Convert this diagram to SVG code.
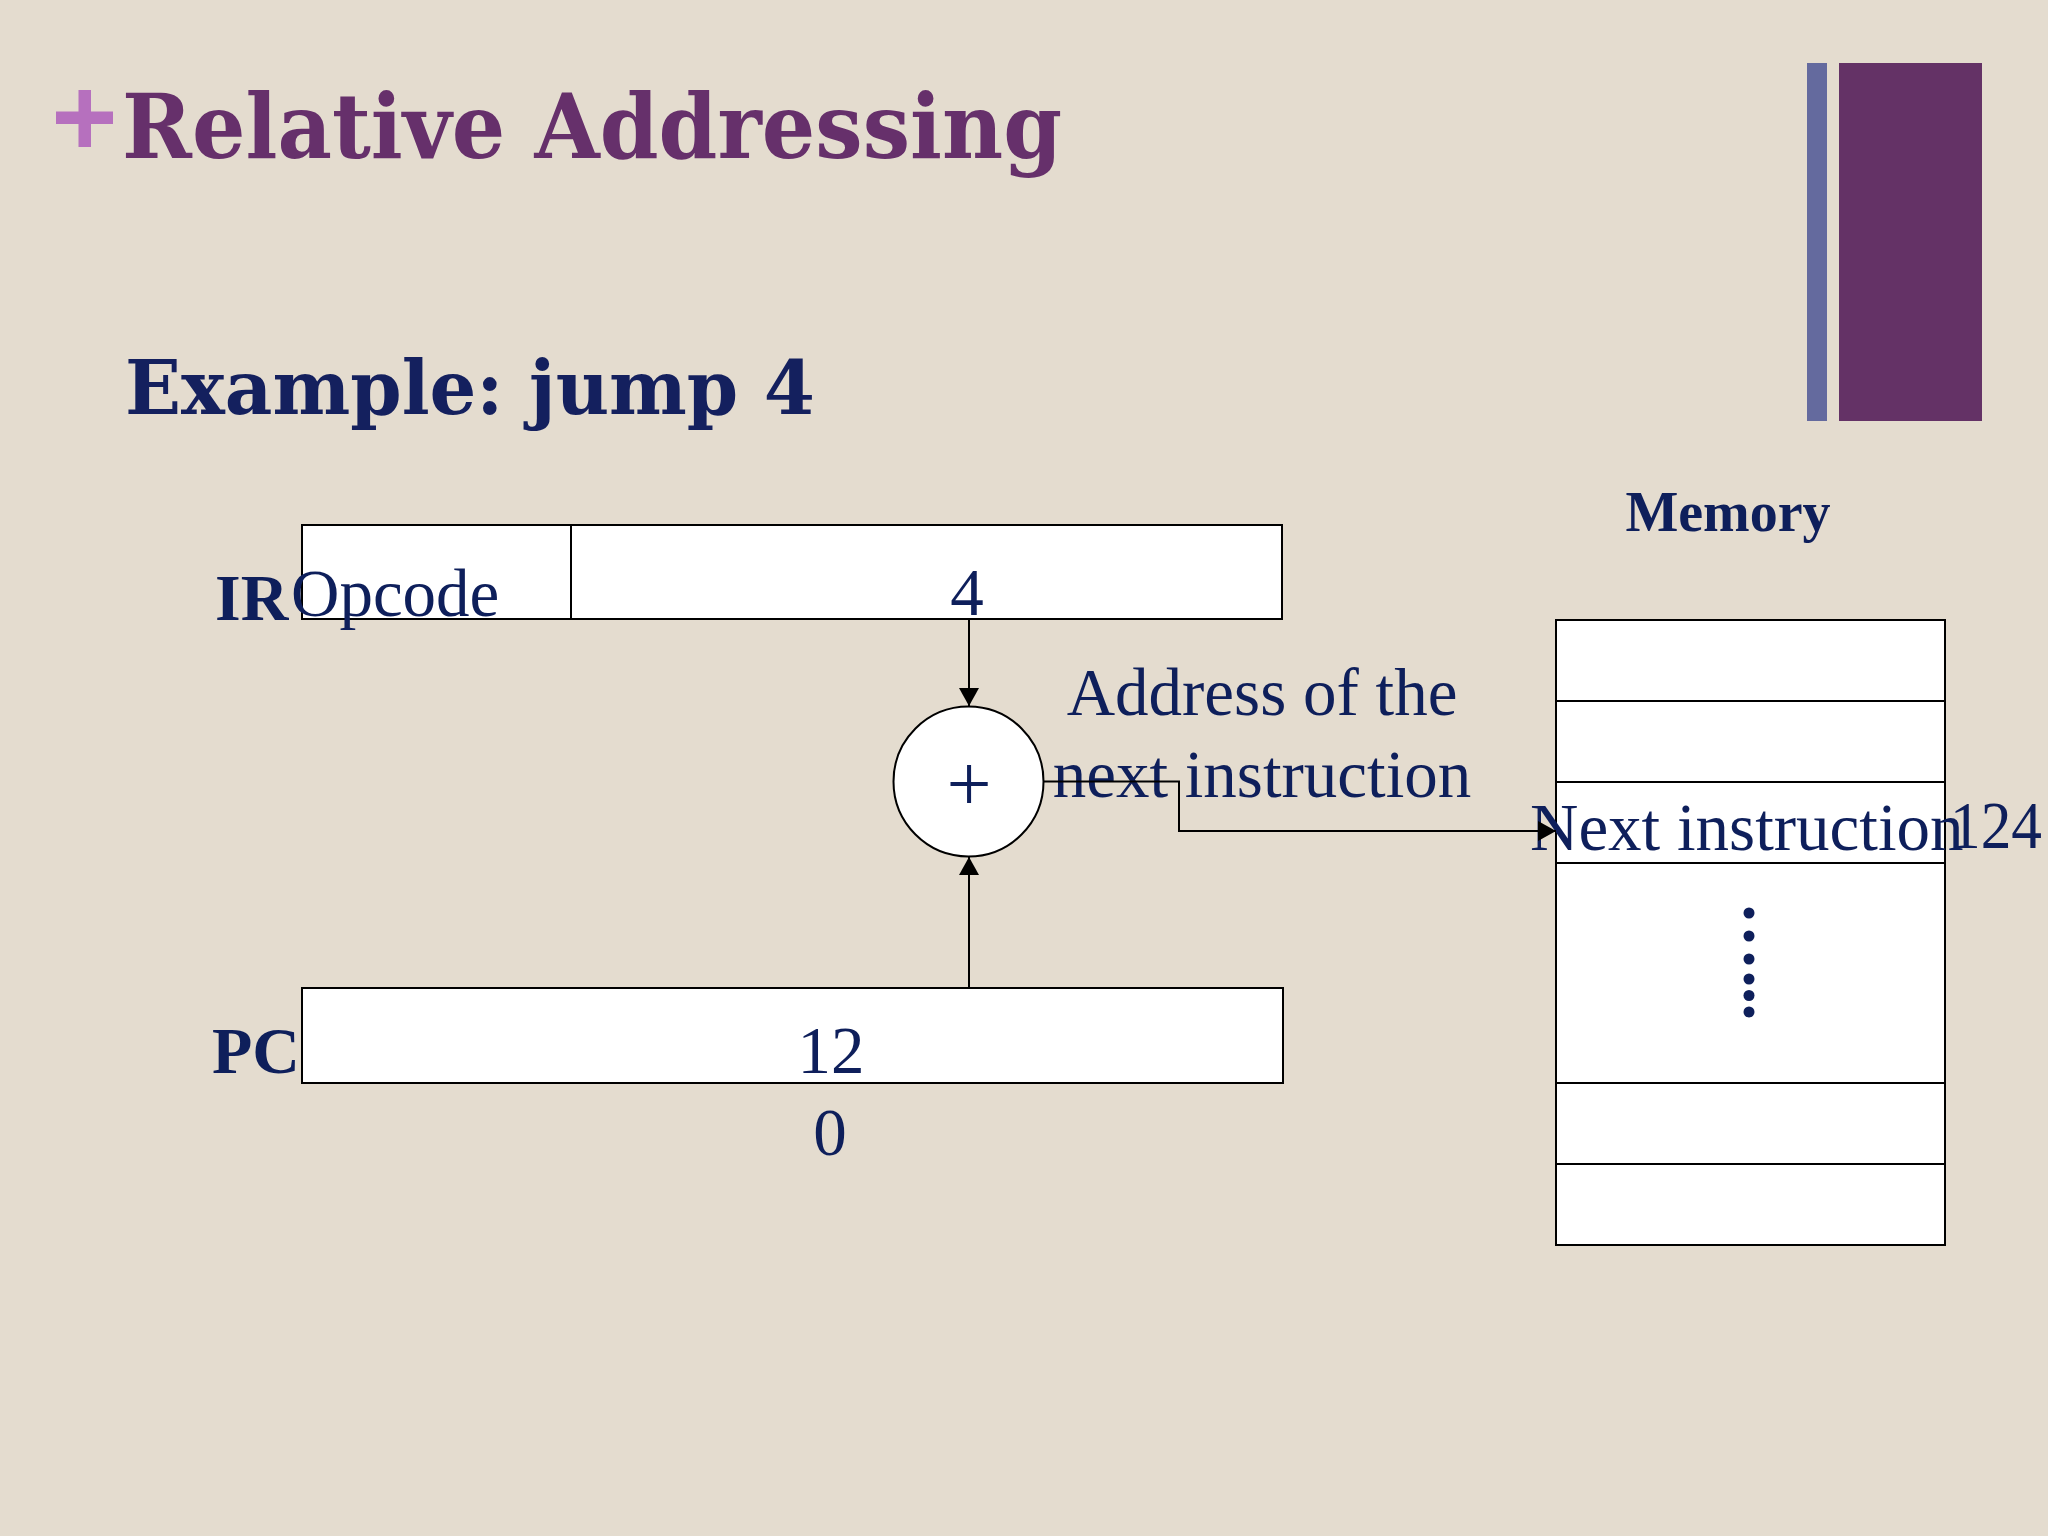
<svg xmlns="http://www.w3.org/2000/svg" width="2048" height="1536" viewBox="0 0 2048 1536">
  <defs>
    <style>
      .bg { fill: #E4DCCF; }
      .box { fill: #FFFFFF; stroke: #000000; stroke-width: 2; }
      .ln { fill: none; stroke: #000000; stroke-width: 2; }
      .conn { fill: none; stroke: #000000; stroke-width: 2; }
      .t { font-family: "Liberation Serif", "Times New Roman", serif; fill: #0E1F5B; }
      .reg { font-size: 67px; }
      .bold { font-size: 66px; font-weight: bold; }
      .slab { font-family: "DejaVu Serif", "Liberation Serif", serif; font-weight: bold; }
      .dot { fill: #0E1F5B; }
    </style>
    <pattern id="speck" width="90" height="90" patternUnits="userSpaceOnUse">
      <rect width="90" height="90" fill="#E4DCCF"/>
      <circle cx="12" cy="18" r="1.2" fill="#CFC6B6"/>
      <circle cx="55" cy="40" r="1" fill="#D3CABB"/>
      <circle cx="72" cy="75" r="1.3" fill="#CDC4B4"/>
      <circle cx="30" cy="66" r="0.9" fill="#D6CEBF"/>
      <circle cx="84" cy="10" r="0.8" fill="#EFE9DF"/>
      <circle cx="40" cy="8" r="1" fill="#EEE8DD"/>
    </pattern>
    <marker id="ah" markerWidth="18" markerHeight="20" refX="18" refY="10" orient="auto" markerUnits="userSpaceOnUse">
      <path d="M0,0 L18,10 L0,20 z" fill="#000000"/>
    </marker>
  </defs>

  <rect class="bg" x="0" y="0" width="2048" height="1536" fill="url(#speck)"/>

  <g id="title">
    <rect x="56" y="111.5" width="57" height="12.5" fill="#B670BE"/>
    <rect x="78.5" y="90" width="12.5" height="57" fill="#B670BE"/>
    <text class="slab" x="122" y="158" font-size="90" fill="#66306B" textLength="940" lengthAdjust="spacingAndGlyphs">Relative Addressing</text>
  </g>

  <g id="subtitle">
    <text class="slab" x="125" y="414" font-size="75" fill="#14205E" textLength="690" lengthAdjust="spacingAndGlyphs">Example: jump 4</text>
  </g>

  <g id="decor">
    <rect x="1807" y="63" width="20" height="358" fill="#646A9E"/>
    <rect x="1839" y="63" width="143" height="358" fill="#643266"/>
  </g>

  <g id="ir">
    <rect class="box" x="302" y="525" width="980" height="94"/>
    <line class="ln" x1="571" y1="525" x2="571" y2="619"/>
  </g>

  <g id="pc">
    <rect class="box" x="302" y="988" width="981" height="95"/>
  </g>

  <g id="adder">
    <circle class="box" cx="968.5" cy="781.5" r="75"/>
  </g>

  <g id="memory">
    <rect class="box" x="1556" y="620" width="389" height="625"/>
    <line class="ln" x1="1556" y1="701" x2="1945" y2="701"/>
    <line class="ln" x1="1556" y1="782" x2="1945" y2="782"/>
    <line class="ln" x1="1556" y1="863" x2="1945" y2="863"/>
    <line class="ln" x1="1556" y1="1083" x2="1945" y2="1083"/>
    <line class="ln" x1="1556" y1="1164" x2="1945" y2="1164"/>
    <circle class="dot" cx="1749" cy="913" r="5.5"/>
    <circle class="dot" cx="1749" cy="936" r="5.5"/>
    <circle class="dot" cx="1749" cy="959" r="5.5"/>
    <circle class="dot" cx="1749" cy="979" r="5.5"/>
    <circle class="dot" cx="1749" cy="995.5" r="5.5"/>
    <circle class="dot" cx="1749" cy="1012" r="5.5"/>
  </g>

  <g id="labels">
    <text class="t bold" x="215" y="620">IR</text>
    <text class="t reg" x="291" y="616">Opcode</text>
    <text class="t reg" x="967" y="615" text-anchor="middle">4</text>
    <text class="t" x="969" y="811" font-size="80" text-anchor="middle">+</text>
    <text class="t bold" x="212" y="1073">PC</text>
    <text class="t reg" x="831" y="1073" text-anchor="middle">12</text>
    <text class="t reg" x="830" y="1155" text-anchor="middle">0</text>
    <text class="t reg" x="1262" y="715" text-anchor="middle">Address of the</text>
    <text class="t reg" x="1262" y="797" text-anchor="middle">next instruction</text>
    <text class="t" x="1728" y="531" font-size="56" font-weight="bold" text-anchor="middle">Memory</text>
    <text class="t reg" x="1530" y="850">Next instruction</text>
    <text class="t reg" x="1950" y="848" textLength="92" lengthAdjust="spacingAndGlyphs">124</text>
  </g>

  <g id="connectors">
    <line class="conn" x1="969" y1="619" x2="969" y2="706" marker-end="url(#ah)"/>
    <line class="conn" x1="969" y1="988" x2="969" y2="857" marker-end="url(#ah)"/>
    <polyline class="conn" points="1043.5,781.5 1179,781.5 1179,831 1556,831" marker-end="url(#ah)"/>
  </g>
</svg>
